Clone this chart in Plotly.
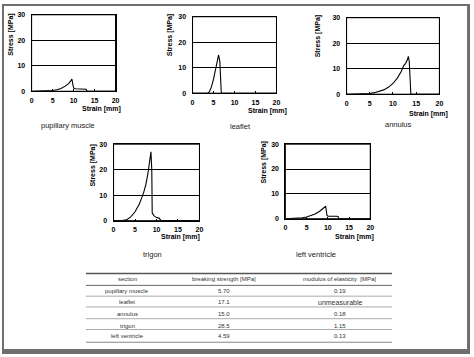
import plotly.graph_objects as go

W, H = 474, 357

# ---- data ----
pupillary_x = [0, 3, 5, 6, 7, 8, 8.8, 9.3, 9.6, 9.9, 10.1, 10.6, 12, 13.0, 13.2, 15, 20]
pupillary_y = [0, 0.1, 0.3, 0.6, 1.1, 2.0, 3.0, 4.0, 4.8, 2.0, 1.1, 1.0, 0.9, 0.8, 0.05, 0, 0]

leaflet_x = [0, 3.6, 4.0, 4.5, 5.0, 5.5, 5.9, 6.2, 6.5, 6.7, 6.85, 10, 20]
leaflet_y = [0, 0, 0.5, 2.5, 5.5, 9.0, 12.5, 15.0, 12.5, 5.0, 0, 0, 0]

annulus_x = [0, 4, 5, 6, 7, 8, 9, 10, 11, 11.8, 12.3, 12.7, 13.1, 13.3, 13.5, 13.7, 13.85, 15, 20]
annulus_y = [0, 0.1, 0.3, 0.6, 1.0, 1.7, 2.7, 4.2, 6.5, 9.0, 11.2, 12.0, 13.5, 14.8, 13.0, 5.0, 0, 0, 0]

trigon_x = [0, 2, 3, 4, 5, 6, 7, 7.5, 8.0, 8.4, 8.7, 8.9, 9.0, 9.5, 10, 10.6, 11, 20]
trigon_y = [0, 0, 0.3, 1.5, 3.5, 6.5, 11, 14, 18.5, 23, 27, 20, 3.0, 1.8, 1.2, 1.0, 0.1, 0]

lv_x = [0, 2, 4, 5, 6, 7, 8, 9, 9.5, 9.8, 10.1, 12, 12.4, 12.6, 20]
lv_y = [0, 0.1, 0.4, 0.7, 1.2, 1.9, 2.9, 4.1, 5.0, 1.3, 1.0, 1.0, 0.9, 0.05, 0]

x_ticks = [0, 5, 10, 15, 20]
y_ticks = [0, 10, 20, 30]

sections = ["pupillary muscle", "leaflet", "annulus", "trigon", "left ventricle"]
breaking_strength = ["5.70", "17.1", "15.0", "28.5", "4.59"]
modulus = ["0.19", "unmeasurable", "0.18", "1.15", "0.13"]
table_headers = ["section", "breaking strength [MPa]", "modulus of elasticity  [MPa]"]

series = [
    (pupillary_x, pupillary_y),
    (leaflet_x, leaflet_y),
    (annulus_x, annulus_y),
    (trigon_x, trigon_y),
    (lv_x, lv_y),
]

# ---- layout geometry (pixels) ----
boxes = [  # left, right, top, bottom
    (30, 115, 11, 89),
    (193, 278, 13, 91),
    (349, 443, 14, 92),
    (113, 200, 143, 221),
    (287, 373, 143, 219),
]
ytitle_pos = [(9.5, 31), (171, 32), (320, 33), (92, 165), (265, 162)]
xtitle_pos = [(101, 107), (269, 109), (432, 112), (181, 238), (357, 238)]
sub_pos = [(67, 124), (242, 125), (402, 123), (152, 256), (318, 255)]


def px(x):
    return x / W


def py(y):
    return 1 - y / H


fig = go.Figure()
layout = dict(
    width=W, height=H,
    margin=dict(l=0, r=0, t=0, b=0),
    paper_bgcolor="white", plot_bgcolor="white",
    showlegend=False,
    font=dict(family="Liberation Sans, Arial, sans-serif", color="black"),
)
annotations = []
shapes = []

tick_font = dict(family="Liberation Sans, Arial, sans-serif", size=7, color="black", weight="bold")

for i, ((xs, ys), (l, r, t, b)) in enumerate(zip(series, boxes)):
    n = "" if i == 0 else str(i + 1)
    fig.add_trace(go.Scatter(
        x=xs, y=ys, mode="lines",
        line=dict(color="black", width=1.1),
        xaxis="x" + n, yaxis="y" + n, hoverinfo="skip",
    ))
    layout["xaxis" + n] = dict(
        domain=[px(l), px(r)], anchor="y" + n, range=[0, 20],
        tickvals=x_ticks, ticks="inside", ticklen=2, tickcolor="black",
        showgrid=False, zeroline=False, showline=True, mirror=True,
        linecolor="black", linewidth=1, tickfont=tick_font, ticklabelstandoff=2,
        fixedrange=True,
    )
    layout["yaxis" + n] = dict(
        domain=[py(b), py(t)], anchor="x" + n, range=[0, 30],
        tickvals=y_ticks, ticks="", showgrid=True, gridcolor="black", gridwidth=1,
        zeroline=False, showline=True, mirror=True,
        linecolor="black", linewidth=1, tickfont=tick_font, ticklabelstandoff=4,
        fixedrange=True,
    )
    # plot-area frame
    shapes.append(dict(type="rect", xref="x" + n + " domain", yref="y" + n + " domain",
                       x0=0, x1=1, y0=0, y1=1, line=dict(color="black", width=1),
                       fillcolor="rgba(0,0,0,0)", layer="above"))
    yx, yy = ytitle_pos[i]
    annotations.append(dict(
        text="<b>Stress [MPa]</b>", x=px(yx), y=py(yy), xref="paper", yref="paper",
        textangle=-90, showarrow=False, xanchor="center", yanchor="middle",
        font=dict(size=7, color="black"),
    ))
    xx, xy = xtitle_pos[i]
    annotations.append(dict(
        text="<b>Strain [mm]</b>", x=px(xx), y=py(xy), xref="paper", yref="paper",
        showarrow=False, xanchor="center", yanchor="middle",
        font=dict(size=7, color="black"),
    ))
    sx, sy = sub_pos[i]
    annotations.append(dict(
        text=sections[i], x=px(sx), y=py(sy), xref="paper", yref="paper",
        showarrow=False, xanchor="center", yanchor="middle",
        font=dict(size=7.5, color="#222222"),
    ))

# ---- table ----
tbl_left, tbl_right = 85, 395
col_x = [127, 225, 342]
header_y = 281
row_y = [293, 304, 316, 328, 339]
line_ys = [(275, "#555555", 1.5), (287, "#666666", 1), (298, "#aaaaaa", 1),
           (309, "#aaaaaa", 1), (321, "#aaaaaa", 1), (332, "#aaaaaa", 1),
           (345, "#888888", 1)]
for yv, c, w in line_ys:
    shapes.append(dict(type="line", xref="paper", yref="paper",
                       x0=px(tbl_left), x1=px(tbl_right), y0=py(yv), y1=py(yv),
                       line=dict(color=c, width=w)))
for j, h in enumerate(table_headers):
    annotations.append(dict(text=h, x=px(col_x[j]), y=py(header_y), xref="paper", yref="paper",
                            showarrow=False, xanchor="center", yanchor="middle",
                            font=dict(size=6, color="#333333")))
for k in range(len(sections)):
    for j, val in enumerate([sections[k], breaking_strength[k], modulus[k]]):
        size = 7 if val == "unmeasurable" else 6
        annotations.append(dict(text=val, x=px(col_x[j]), y=py(row_y[k]), xref="paper", yref="paper",
                                showarrow=False, xanchor="center", yanchor="middle",
                                font=dict(size=size, color="#333333")))

# ---- gray frame ----
frame = "#6e6e6e"
for x0, x1, y0, y1 in [(0, 2, 0, H), (W - 3, W, 0, H), (0, W, 0, 2), (0, W, H - 5, H)]:
    shapes.append(dict(type="rect", xref="paper", yref="paper",
                       x0=px(x0), x1=px(x1), y0=py(y1), y1=py(y0),
                       fillcolor=frame, line=dict(width=0), layer="above"))

layout["annotations"] = annotations
layout["shapes"] = shapes
fig.update_layout(**layout)
fig.write_html(
    "out.html",
    config={"displayModeBar": False},
    post_script="document.body.style.margin='0';document.body.style.padding='0';document.body.style.overflow='hidden';",
)
